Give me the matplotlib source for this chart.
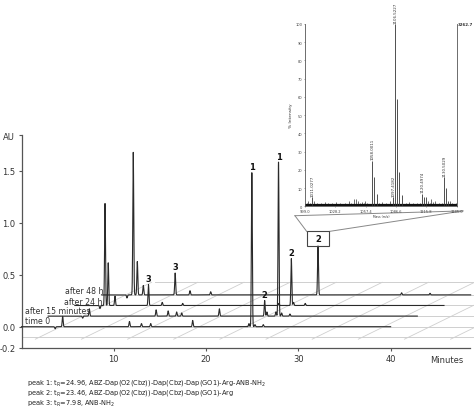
import numpy as np
import matplotlib
matplotlib.use("Agg")
import matplotlib.pyplot as plt
from matplotlib.patches import Rectangle

# ---------------- data ----------------
trace_labels = ["time 0", "after 15 minutes", "after 24 h", "after 48 h"]
run_end = [40.0, 40.0, 40.0, 40.0]

# peak lists per trace: retention time (min) and height (AU); negative = dip
rt_t0 = [3.65, 4.46, 11.70, 13.00, 14.00, 18.55, 24.65, 24.96, 25.30, 26.20]
h_t0 = [-0.02, 0.10, 0.05, 0.03, 0.03, 0.06, 0.03, 1.48, 0.02, 0.02]

rt_t15 = [3.74, 4.46, 11.70, 13.00, 13.92, 14.47, 18.55, 23.46, 23.70, 24.68, 24.96, 25.30, 26.20]
h_t15 = [-0.02, 0.07, 0.06, 0.05, 0.04, 0.03, 0.07, 0.15, 0.04, 0.04, 1.48, 0.03, 0.02]

rt_t24 = [2.72, 3.27, 3.62, 4.35, 7.98, 9.47, 11.69, 22.10, 23.46, 23.70, 24.96]
h_t24 = [-0.03, 0.98, 0.41, 0.09, 0.20, 0.03, 0.02, 0.02, 0.45, 0.03, 0.02]

rt_t48 = [2.76, 3.44, 3.88, 4.53, 7.98, 9.59, 11.83, 23.46, 32.52, 35.60]
h_t48 = [-0.03, 1.37, 0.32, 0.09, 0.21, 0.04, 0.03, 0.47, 0.02, 0.015]

trace_rt = [rt_t0, rt_t15, rt_t24, rt_t48]
trace_h = [h_t0, h_t15, h_t24, h_t48]

# peak identification tags (trace index, retention time, tag)
tag_trace = [0, 1, 1, 2, 2, 3]
tag_rt = [24.96, 24.96, 23.46, 23.46, 7.98, 7.98]
tag_text = ["1", "1", "2", "2", "3", "3"]
boxed_trace, boxed_rt, boxed_text = 3, 23.46, "2"

y_ticks = [-0.2, 0.0, 0.5, 1.0, 1.5, 1.84]
y_ticklabels = ["-0.2", "0.0", "0.5", "1.0", "1.5", "AU"]
x_ticks = [10, 20, 30, 40]

# mass spectrum (inset)
ms_mz = [1006.2, 1061.6, 1063.7, 1066.2, 1080.9, 1083.1, 1085.2, 1087.0,
         1089.2, 1107.7, 1109.8, 1111.4, 1128.3, 1130.2, 1132.2]
ms_int = [5, 25, 16, 7, 5, 100, 59, 19, 6, 7, 5, 5, 16, 10, 3]
noise_mz = [1001.5, 1003.0, 1004.4, 1008.1, 1009.6, 1011.2, 1013.0, 1014.7, 1016.3, 1018.0,
            1019.8, 1021.5, 1023.1, 1025.0, 1026.6, 1028.4, 1030.1, 1031.9, 1033.5, 1035.2,
            1037.0, 1038.7, 1040.3, 1042.1, 1043.6, 1045.4, 1047.0, 1048.9, 1050.5, 1052.2,
            1054.0, 1055.7, 1057.3, 1059.1, 1068.0, 1069.8, 1071.5, 1073.2, 1075.0, 1076.6,
            1078.4, 1091.0, 1092.8, 1094.5, 1096.1, 1097.9, 1099.6, 1101.3, 1103.0, 1104.8,
            1106.3, 1113.2, 1115.0, 1116.6, 1118.4, 1120.1, 1121.8, 1123.5, 1125.2, 1126.8,
            1134.0, 1135.7, 1137.4, 1139.0]
noise_int = [2, 3, 2, 3, 1.5, 2, 1, 2, 1.5, 2.5,
             1, 2, 1.5, 2, 1, 2.5, 1.5, 2, 1, 1.5,
             2, 1, 3, 2, 1.5, 4, 4, 3, 2, 2.5,
             2, 3, 2, 1.5, 2, 1.5, 2.5, 1, 2, 1.5,
             3, 1.5, 2, 1, 2.5, 1.5, 2, 1, 2, 1.5,
             2, 3, 2, 4, 2.5, 3, 1.5, 2, 1, 2,
             3, 2, 1.5, 2]
ms_label_mz = [1006.2, 1061.6, 1080.9, 1083.1, 1107.7, 1128.3]
ms_label_int = [5, 25, 5, 100, 7, 16]
ms_label_text = ["1011.0277", "1058.0011", "1097.4182", "1106.5227", "1120.4974", "1130.5029"]
ms_xticks = [1000, 1028, 1056, 1084, 1112, 1140]
ms_xticklabels = ["999.0", "1028.2", "1057.4", "1086.6", "1115.8", "1145.0"]
ms_yticks = [0, 10, 20, 30, 40, 50, 60, 70, 80, 90, 100]
ms_top_label = "3262.7"

footer = [r"peak 1: t$_\mathregular{R}$=24.96, ABZ-Dap(O2(Cbz))-Dap(Cbz)-Dap(GO1)-Arg-ANB-NH$_\mathregular{2}$",
          r"peak 2: t$_\mathregular{R}$=23.46, ABZ-Dap(O2(Cbz))-Dap(Cbz)-Dap(GO1)-Arg",
          r"peak 3: t$_\mathregular{R}$=7.98, ANB-NH$_\mathregular{2}$"]

# ---------------- layout / style ----------------
plt.rcParams['font.family'] = ['DejaVu Sans']
DX, DY = 2.89, 0.102        # offset between stacked traces
XMAX = 49.0
SIG = 0.05
TRACE_C = "#2a2a2a"
FLOOR_C = "#cfcfcf"
AX_C = "#555555"
TXT_C = "#333333"

fig = plt.figure(figsize=(4.74, 4.10), dpi=100)
ax = fig.add_axes([21.5 / 474, 1 - 348.5 / 410, 448.5 / 474, 212.2 / 410])
ax.set_xlim(0, 48.6)
ax.set_ylim(-0.2, 1.84)
for s in ["top", "right"]:
    ax.spines[s].set_visible(False)
for s in ["left", "bottom"]:
    ax.spines[s].set_color(AX_C)
    ax.spines[s].set_linewidth(0.9)
ax.set_yticks(y_ticks)
ax.set_yticklabels(y_ticklabels)
ax.set_xticks(x_ticks)
ax.tick_params(axis="both", labelsize=6, colors=AX_C, labelcolor=TXT_C, length=2.5, width=0.8, pad=2)
ax.text(46.1, -0.32, "Minutes", fontsize=6, color=TXT_C, ha="center", va="center", clip_on=False)

# floor (pseudo-3D grid)
y_hi = 0.427
depth_dx = 12.6
ax.plot([0, XMAX], [-0.1, -0.1], color=FLOOR_C, lw=0.7, zorder=1, clip_on=False)
ax.plot([depth_dx + 1.9, XMAX], [y_hi, y_hi], color=FLOOR_C, lw=0.7, zorder=1, clip_on=False)
for x0 in np.arange(0, 50, 5):
    xa, ya = x0 + 1.5, -0.12
    xb, yb = xa + depth_dx, y_hi
    if xb > XMAX:
        yb = ya + (y_hi - ya) * (XMAX - xa) / depth_dx
        xb = XMAX
    if xa < XMAX:
        ax.plot([xa, xb], [ya, yb], color=FLOOR_C, lw=0.6, zorder=1, clip_on=False)

# traces
t = np.arange(0, 40.0001, 0.01)
peak_top = {}
for k in range(4):
    y = np.zeros_like(t)
    for rt, h in zip(trace_rt[k], trace_h[k]):
        y += h * np.exp(-0.5 * ((t - rt) / SIG) ** 2)
    xs = t + k * DX
    ys = y + k * DY
    ax.plot([k * DX, XMAX], [k * DY, k * DY], color=FLOOR_C, lw=0.7, zorder=1, clip_on=False)
    ax.plot(xs, ys, color=TRACE_C, lw=0.8, zorder=3, clip_on=False)
    for rt, h in zip(trace_rt[k], trace_h[k]):
        peak_top[(k, rt)] = (rt + k * DX, h + k * DY)

# trace labels
lab_pos = [(0.4, 0.055), (0.4, 0.157), (4.6, 0.245), (4.7, 0.345)]
for lab, (lx, ly) in zip(trace_labels, lab_pos):
    ax.text(lx, ly, lab, fontsize=5.6, color=TXT_C, ha="left", va="center")

# peak tags
for k, rt, tx in zip(tag_trace, tag_rt, tag_text):
    px, py = peak_top[(k, rt)]
    ax.text(px, py + 0.015, tx, fontsize=6, fontweight="bold", color="#111111",
            ha="center", va="bottom")

# boxed tag with funnel to inset
bx, by = peak_top[(boxed_trace, boxed_rt)]
box_w, box_h = 2.45, 0.14
ax.add_patch(Rectangle((bx - box_w / 2, by), box_w, box_h, fill=False, ec="#444444", lw=0.8,
                       zorder=4, clip_on=False))
ax.text(bx, by + box_h / 2, boxed_text, fontsize=6, fontweight="bold", color="#111111",
        ha="center", va="center")
ftl = (29.63, 1.067)
ftr = (47.83, 1.113)
ax.plot([ftl[0], ftr[0]], [ftl[1], ftr[1]], color="#888888", lw=0.7, clip_on=False)
ax.plot([ftl[0], bx - box_w / 2], [ftl[1], by + box_h], color="#888888", lw=0.7, clip_on=False)
ax.plot([ftr[0], bx + box_w / 2], [ftr[1], by + box_h], color="#888888", lw=0.7, clip_on=False)

# ---------------- inset mass spectrum ----------------
ins = fig.add_axes([305 / 474, 1 - 207.3 / 410, 151.7 / 474, 182.3 / 410])
ins.set_xlim(1000, 1140)
ins.set_ylim(0, 100)
ins.spines["top"].set_visible(False)
for s in ["left", "right", "bottom"]:
    ins.spines[s].set_color("#555555")
    ins.spines[s].set_linewidth(0.6)
ins.set_yticks(ms_yticks)
ins.set_yticklabels([str(v) for v in ms_yticks])
ins.set_xticks(ms_xticks)
ins.set_xticklabels(ms_xticklabels)
ins.tick_params(labelsize=2.6, length=1, width=0.4, pad=1, colors="#555555", labelcolor="#444444")
ins.set_ylabel("% Intensity", fontsize=3.2, labelpad=1.5, color="#333333")
ins.set_xlabel("Mass (m/z)", fontsize=2.2, labelpad=1, color="#333333")
ins.vlines(noise_mz, 0, noise_int, color="#333333", lw=0.5)
ins.plot([1000, 1140], [0.9, 0.9], color="#111111", lw=1.6)
ins.vlines(ms_mz, 0, ms_int, color="#333333", lw=0.6)
for mz, it, tx in zip(ms_label_mz, ms_label_int, ms_label_text):
    ins.text(mz + 0.8, it + 0.8, tx, fontsize=2.9, rotation=90, color="#333333",
             ha="center", va="bottom", clip_on=False)
ins.text(1140.8, 100, ms_top_label, fontsize=2.9, fontweight="bold", color="#333333",
         ha="left", va="center", clip_on=False)

# footer
for i, line in enumerate(footer):
    fig.text(27 / 474, 1 - (383 + 10.5 * i) / 410, line, fontsize=4.8, color="#222222",
             ha="left", va="center")

fig.savefig("out.png", dpi=100)
